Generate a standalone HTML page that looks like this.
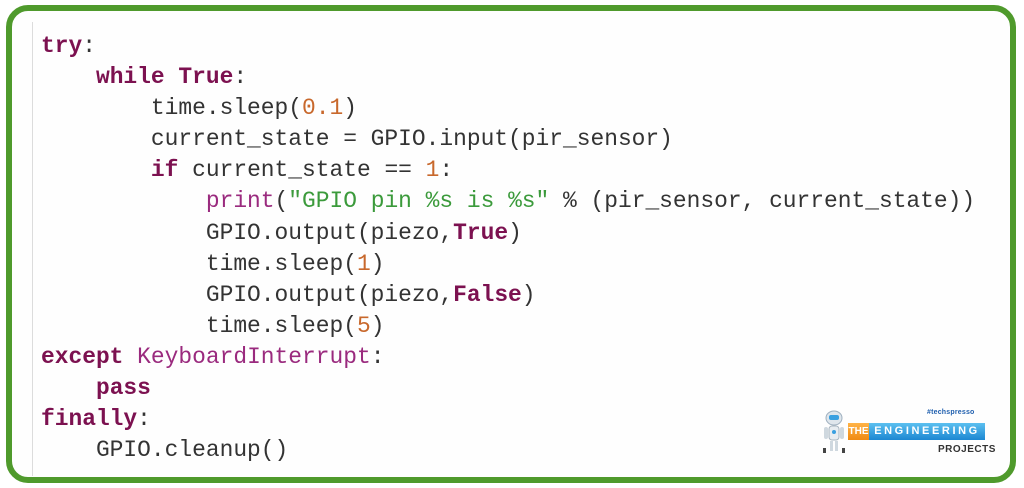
<!DOCTYPE html>
<html>
<head>
<meta charset="utf-8">
<style>
  html,body{margin:0;padding:0;background:#ffffff;}
  body{width:1024px;height:488px;position:relative;overflow:hidden;}
  .frame{position:absolute;left:6px;top:5px;width:998px;height:466px;border:6px solid #4f9a2c;border-radius:22px;background:#fefefe;}
  .gutter{position:absolute;left:32px;top:22px;width:1px;height:454px;background:#dcdcdc;}
  pre{position:absolute;left:41px;top:31px;margin:0;font-family:"Liberation Mono",monospace;font-size:22.9px;line-height:31.1px;color:#333333;}
  .k{color:#7c1150;font-weight:bold;}
  .f{color:#9a2a7e;}
  .s{color:#3b9a3b;}
  .n{color:#c8682c;}
  .robot{position:absolute;left:823px;top:410px;width:22px;height:44px;}
  .tech{position:absolute;left:927px;top:409px;font-family:"Liberation Sans",sans-serif;font-size:7px;font-weight:bold;color:#1f5fae;letter-spacing:0.2px;}
  .the{position:absolute;left:848px;top:423px;width:21px;height:17px;background:linear-gradient(#ffb347,#f08a12);color:#fff;font-family:"Liberation Sans",sans-serif;font-weight:bold;font-size:10px;line-height:17px;text-align:center;overflow:hidden;}
  .eng{position:absolute;left:869px;top:423px;width:116px;height:17px;background:linear-gradient(#5cc0f0,#1c87d2);color:#fff;font-family:"Liberation Sans",sans-serif;font-weight:bold;font-size:11px;line-height:17px;text-align:center;letter-spacing:2.6px;overflow:hidden;}
  .proj{position:absolute;left:938px;top:444px;font-family:"Liberation Sans",sans-serif;font-weight:bold;font-size:10px;color:#333;letter-spacing:0.5px;}
</style>
</head>
<body>
<div class="frame"></div>
<div class="gutter"></div>
<pre><span class="k">try</span>:
    <span class="k">while</span> <span class="k">True</span>:
        time.sleep(<span class="n">0.1</span>)
        current_state = GPIO.input(pir_sensor)
        <span class="k">if</span> current_state == <span class="n">1</span>:
            <span class="f">print</span>(<span class="s">"GPIO pin %s is %s"</span> % (pir_sensor, current_state))
            GPIO.output(piezo,<span class="k">True</span>)
            time.sleep(<span class="n">1</span>)
            GPIO.output(piezo,<span class="k">False</span>)
            time.sleep(<span class="n">5</span>)
<span class="k">except</span> <span class="f">KeyboardInterrupt</span>:
    <span class="k">pass</span>
<span class="k">finally</span>:
    GPIO.cleanup()</pre>

<svg class="robot" viewBox="0 0 22 44" width="22" height="44">
  <ellipse cx="11" cy="8" rx="8" ry="7" fill="#dfe6ec" stroke="#9fb0bf" stroke-width="1"/>
  <rect x="6" y="5" width="10" height="5" rx="2" fill="#3aa0e0"/>
  <rect x="6" y="16" width="10" height="14" rx="3" fill="#e8edf1" stroke="#a8b5c0" stroke-width="1"/>
  <circle cx="11" cy="22" r="2" fill="#3aa0e0"/>
  <rect x="1" y="17" width="4" height="12" rx="2" fill="#cfd8df"/>
  <rect x="17" y="17" width="4" height="12" rx="2" fill="#cfd8df"/>
  <rect x="7" y="31" width="3" height="10" fill="#cfd8df"/>
  <rect x="12" y="31" width="3" height="10" fill="#cfd8df"/>
  <rect x="0" y="38" width="3" height="5" fill="#444"/>
  <rect x="19" y="38" width="3" height="5" fill="#444"/>
</svg>
<div class="tech">#techspresso</div>
<div class="the">THE</div>
<div class="eng">ENGINEERING</div>
<div class="proj">PROJECTS</div>
</body>
</html>
